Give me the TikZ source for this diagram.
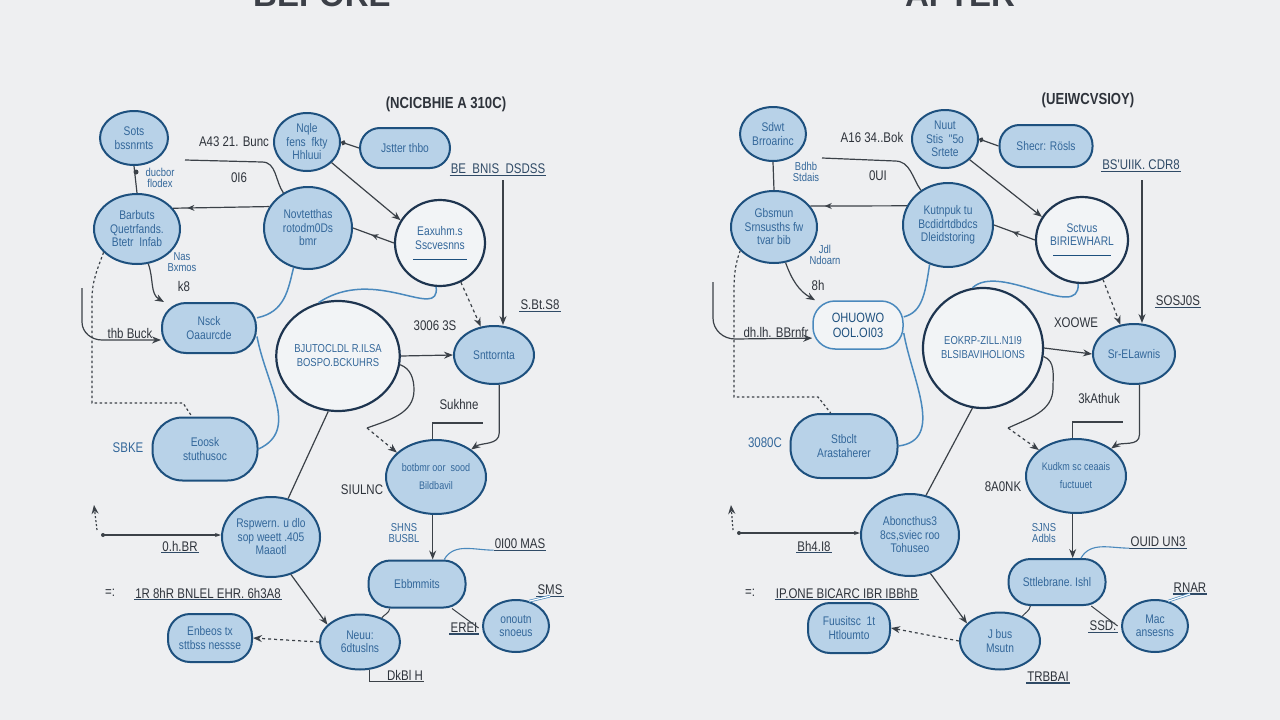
\documentclass[tikz,border=0pt]{standalone}
\usepackage{fontspec}
\setmainfont{Liberation Sans}
\newfontfamily\condf[FakeStretch=0.82]{Liberation Sans}
\usetikzlibrary{shapes.geometric,arrows.meta,decorations.markings}
\definecolor{bgc}{HTML}{EEEFF1}
\definecolor{fillc}{HTML}{B8D2E8}
\definecolor{wfill}{HTML}{F2F4F6}
\definecolor{edgec}{HTML}{1D507E}
\definecolor{darkedge}{HTML}{1E3550}
\definecolor{txtc}{HTML}{33679A}
\definecolor{darkc}{HTML}{2E333B}
\definecolor{linec}{HTML}{3B4148}
\definecolor{bluel}{HTML}{4A89BD}
\definecolor{ulc}{HTML}{2F4A66}
\definecolor{titc}{HTML}{3C4048}
\newcommand\myNodeFont{\condf\fontsize{12.5}{13.5}\selectfont}
\newcommand\myCircFont{\condf\fontsize{11.5}{14}\selectfont}
\newcommand\myTightFont{\condf\fontsize{11}{12}\selectfont}
\newcommand\myBigFont{\condf\fontsize{13.5}{15}\selectfont}
\newcommand\myLabFont{\condf\fontsize{14}{15}\selectfont}
\newcommand\mySmallFont{\condf\fontsize{11.5}{11.5}\selectfont}
\newcommand\myTitFont{\condf\bfseries\fontsize{16}{17}\selectfont}
\newcommand\myHeadFont{\bfseries\fontsize{33}{33}\selectfont}
\tikzset{
  ell/.style={ellipse, draw=edgec, line width=2pt, fill=fillc, text=txtc, font=\myNodeFont, align=center, inner sep=0pt},
  wcirc/.style={ellipse, draw=darkedge, line width=2.2pt, fill=wfill, text=txtc, font=\myNodeFont, align=center, inner sep=0pt},
  rbox/.style={rectangle, rounded corners=20pt, draw=edgec, line width=2pt, fill=fillc, text=txtc, font=\myNodeFont, align=center, inner sep=0pt},
  lbl/.style={text=darkc, font=\myLabFont, align=center, inner sep=1pt},
  blbl/.style={text=txtc, font=\mySmallFont, align=center, inner sep=1pt},
  ulbl/.style={lbl, append after command={(\tikzlastnode.south west) edge[draw=ulc, line width=1.1pt] (\tikzlastnode.south east)}},
  conn/.style={draw=linec, line width=1.2pt},
  arr/.style={conn, -{Stealth[length=9pt,width=7pt]}},
  dotl/.style={conn, dash pattern=on 2.5pt off 2.5pt},
  bcurve/.style={draw=bluel, line width=1.5pt},
  bline/.style={draw=bluel, line width=1.1pt},
  midarr/.style={postaction={decorate,decoration={markings,mark=at position #1 with {\arrow{Stealth[length=7pt,width=6pt]}}}}}
}
\begin{document}
\begin{tikzpicture}[x=1pt,y=-1pt]
\fill[bgc] (0,0) rectangle (1280,720);
\useasboundingbox (0,0) rectangle (1280,720);

% titles (cut off at top edge, as in the reference)
\node[font=\myHeadFont, text=titc, anchor=base, inner sep=0pt] (T1) at (322,6) {BEFORE};
\node[font=\myHeadFont, text=titc, anchor=base, inner sep=0pt] (T2) at (960,6) {AFTER};

% ================= LEFT PANEL =================
\node[ell, minimum width=68, minimum height=54] (N1) at (134,138) {Sots\\bssnrnts};
\node[ell, minimum width=66, minimum height=58] (N2) at (307,142) {Nqle\\fens\ \ fkty\\Hhluui};
\node[rbox, minimum width=90, minimum height=40] (N3) at (405,148) {Jstter thbo};
\node[ell, minimum width=86, minimum height=70] (N4) at (137,229) {Barbuts\\Quetrfands.\\Btetr\ \ Infab};
\node[ell, minimum width=88, minimum height=82] (N5) at (308,228) {Novtetthas\\rotodm0Ds\\bmr};
\node[wcirc, minimum width=90, minimum height=86] (N6) at (440,243) {Eaxuhm.s\\Sscvesnns\\[-3pt]{\color{edgec}\rule{54pt}{1pt}}};
\node[rbox, minimum width=94, minimum height=50, rounded corners=24pt] (N7) at (209,328) {Nsck\\Oaaurcde};
\node[wcirc, font=\myCircFont, minimum width=110, minimum height=110] (N8) at (338,356) {BJUTOCLDL R.ILSA\\BOSPO.BCKUHRS};
\node[ell, minimum width=80, minimum height=58] (N9) at (494,355) {Snttornta};
\node[rbox, minimum width=105, minimum height=63, rounded corners=30pt] (N10) at (205,449) {Eoosk\\stuthusoc};
\node[ell, font=\myTightFont, inner sep=-3pt, minimum width=100, minimum height=74] (N11) at (436,477) {botbmr oor\ \ sood\\[6pt]Bildbavil};
\node[ell, minimum width=98, minimum height=80] (N12) at (271,537) {Rspwern. u dlo\\sop weett .405\\Maaotl};
\node[rbox, minimum width=97, minimum height=47, rounded corners=22pt] (N13) at (417,584) {Ebbmmits};
\node[rbox, minimum width=84, minimum height=48, rounded corners=22pt] (N14) at (210,638) {Enbeos tx\\sttbss nessse};
\node[ell, minimum width=80, minimum height=55] (N15) at (360,642) {Neuu:\\6dtuslns};
\node[ell, minimum width=66, minimum height=52] (N16) at (516,626) {onoutn\\snoeus};

% labels left
\node[lbl] (lA) at (234,142) {A43 21. Bunc};
\node[lbl] (lB) at (239,178) {0I6};
\node[lbl, font=\myTitFont] (lC) at (446,104) {(NCICBHIE A 310C)};
\node[ulbl, text=ulc] (lD) at (498,169) {BE\ \ BNIS\ \ DSDSS};
\node[blbl] (lE) at (160,178) {ducbor\\flodex};
\node[blbl] (lF) at (182,262) {Nas\\Bxmos};
\node[lbl] (lG) at (184,286) {k8};
\node[lbl] (lH) at (130,333) {thb Buck};
\node[lbl, text=txtc] (lI) at (128,448) {SBKE};
\node[lbl] (lJ) at (435,326) {3006 3S};
\node[ulbl] (lK) at (540,305) {S.Bt.S8};
\node[lbl] (lL) at (459,404) {Sukhne};
\node[lbl] (lM) at (362,490) {SIULNC};
\node[ulbl] (lN) at (180,546) {0.h.BR};
\node[ulbl] (lO) at (208,593) {1R 8hR BNLEL EHR. 6h3A8};
\node[lbl] (lP) at (110,593) {=:};
\node[blbl] (lQ) at (404,533) {SHNS\\BUSBL};
\node[ulbl] (lR) at (520,544) {0I00 MAS};
\node[ulbl] (lS) at (550,590) {SMS};
\node[ulbl] (lT) at (464,628) {EREI};
\node[lbl] (lU) at (405,675) {DkBl H};

% connectors left
\draw[conn] (N1.south) -- (N4.north);
\fill[linec] (136,172) circle (2.5);
\coordinate (a1) at (185,160);
\draw[conn] (a1) -- (262,162) to[out=0,in=125] (N5.125);
\draw[conn, midarr=0.85] (N5.151) -- (N4.30);
\draw[conn, -{Circle[length=5pt]}] (N3.west) -- (N2.east);
\draw[arr] (N2.-40) -- (N6.150);
\draw[conn, midarr=0.55] (N6.west) -- (N5.east);
\draw[arr, dashed] (N6.-62) -- (N9.115);
\coordinate (v1) at (503,180);
\draw[arr] (v1) -- (N9.north -| v1);
\draw[arr] (N8.east) -- (N9.west);
\draw[arr] (N9.-80) -- ++(0,48) to[out=-90,in=35] (N11.38);
\draw[conn] (N8.-8) to[out=-20,in=90] (414,390) to[out=-90,in=20] (367,428) coordinate (k1);
\draw[arr, dashed] (k1) -- (N11.148);
\draw[conn] (N11.95) -- ++(0,-16) -- ++(50,0);
\draw[conn] (N8.-100) -- (N12.66);
\draw[arr] (N12.-62) -- (N15.152);
\draw[arr, dashed] (N15.west) -- (N14.east);
\coordinate (t1) at (N11.-95);
\draw[arr] (t1) -- (t1 |- N13.north);
\draw[bline] (N13.42) to[out=60,in=180] (lR.south west);
\draw[conn, line width=1pt] (N13.222) to[out=-100,in=50] (N15.48);
\draw[conn, line width=1pt] (N13.-35) -- (lT.east);
\draw[bline, double, double distance=1.2pt, line width=0.7pt] (N16.62) -- (lS.south);
\draw[conn, line width=1pt] (N15.-72) |- (lU.south east);
\draw[dotl] (N4.215) to[out=-110,in=90] (92,300) -- (92,403) -- (183,403) -- (N10.112);
\coordinate (s1) at (82,288);
\draw[arr] (s1) -- (82,322) to[out=-90,in=180] (102,340) -- (N7.194);
\draw[arr] (N4.-72) to[out=-70,in=150] (N7.150);
\coordinate (u1) at (97,530);
\draw[arr, dash pattern=on 2pt off 2pt] (u1) -- (94,505);
\draw[conn, -{Stealth[length=6pt,width=4pt]}] (u1) ++(6,5) coordinate (u1b) -- (N12.west |- u1b);
\fill[linec] (u1b) circle (2);
\draw[bcurve] (N5.250) .. controls (288,290) and (285,312) .. (N7.12);
\draw[bcurve] (N7.-10) .. controls (266,385) and (300,430) .. (N10.east);
\draw[bcurve] (N6.-95) .. controls (440,322) and (375,265) .. (N8.110);

% ================= RIGHT PANEL =================
\node[ell, minimum width=66, minimum height=54] (R1) at (773,134) {Sdwt\\Brroarinc};
\node[ell, minimum width=66, minimum height=58] (R2) at (945,139) {Nuut\\Stis\ \ "5o\\Srtete};
\node[rbox, minimum width=93, minimum height=42] (R3) at (1046,146) {Shecr: Rösls};
\node[ell, minimum width=86, minimum height=72] (R4) at (774,227) {Gbsmun\\Srnsusths fw\\tvar bib};
\node[ell, minimum width=90, minimum height=84] (R5) at (948,225) {Kutnpuk tu\\Bcdidrtdbdcs\\Dleidstoring};
\node[wcirc, minimum width=92, minimum height=86] (R6) at (1082,240) {Sctvus\\BIRIEWHARL\\[-3pt]{\color{edgec}\rule{58pt}{1pt}}};
\node[rbox, draw=bluel, line width=1.5pt, fill=wfill, minimum width=90, minimum height=48, rounded corners=22pt, font=\myBigFont, text=edgec] (R7) at (858,325) {OHUOWO\\OOL.OI03};
\node[wcirc, font=\myCircFont, minimum width=120, minimum height=120] (R8) at (983,348) {EOKRP-ZILL.N1I9\\BLSIBAVIHOLIONS};
\node[ell, minimum width=82, minimum height=60] (R9) at (1134,354) {Sr-ELawnis};
\node[rbox, minimum width=107, minimum height=64, rounded corners=30pt] (R10) at (844,446) {Stbclt\\Arastaherer};
\node[ell, font=\myTightFont, inner sep=-3pt, minimum width=100, minimum height=74] (R11) at (1076,476) {Kudkm sc ceaais\\[6pt]fuctuuet};
\node[ell, minimum width=98, minimum height=82] (R12) at (910,535) {Aboncthus3\\8cs,sviec roo\\Tohuseo};
\node[rbox, minimum width=97, minimum height=46, rounded corners=22pt] (R13) at (1057,582) {Sttlebrane.\ Ishl};
\node[rbox, minimum width=82, minimum height=50, rounded corners=22pt] (R14) at (849,628) {Fuusitsc\ \ 1t\\Htloumto};
\node[ell, minimum width=80, minimum height=57] (R15) at (1000,641) {J bus\\Msutn};
\node[ell, minimum width=66, minimum height=52] (R16) at (1155,626) {Mac\\ansesns};

% labels right
\node[lbl] (rA) at (872,137) {A16 34..Bok};
\node[lbl] (rB) at (878,176) {0UI};
\node[lbl, font=\myTitFont] (rC) at (1088,100) {(UEIWCVSIOY)};
\node[ulbl, text=ulc] (rD) at (1141,165) {BS'UIIK.\ CDR8};
\node[blbl] (rE) at (806,172) {Bdhb\\Stdais};
\node[blbl] (rF) at (825,255) {Jdl\\Ndoarn};
\node[lbl] (rG) at (818,285) {8h};
\node[lbl] (rH) at (776,332) {dh.lh. BBrnfr};
\node[lbl, text=txtc] (rI) at (765,443) {3080C};
\node[lbl] (rJ) at (1076,323) {XOOWE};
\node[ulbl] (rK) at (1178,301) {SOSJ0S};
\node[lbl] (rL) at (1099,398) {3kAthuk};
\node[lbl] (rM) at (1003,487) {8A0NK};
\node[ulbl] (rN) at (814,546) {Bh4.I8};
\node[ulbl] (rO) at (847,593) {IP.ONE BICARC IBR IBBhB};
\node[lbl] (rP) at (750,593) {=:};
\node[blbl] (rQ) at (1044,533) {SJNS\\Adbls};
\node[ulbl] (rR) at (1158,542) {OUID UN3};
\node[ulbl] (rS) at (1190,588) {RNAR};
\node[ulbl] (rT) at (1103,626) {SSD:};
\node[ulbl] (rU) at (1048,677) {TRBBAI};

% connectors right
\draw[conn] (R1.south) -- (R4.north);
\coordinate (a2) at (822,158);
\draw[conn] (a2) -- (895,161) to[out=0,in=125] (R5.128);
\draw[conn, midarr=0.85] (R5.155) -- (R4.30);
\draw[conn, -{Circle[length=5pt]}] (R3.west) -- (R2.east);
\draw[arr] (R2.-40) -- (R6.150);
\draw[conn, midarr=0.55] (R6.west) -- (R5.east);
\draw[arr, dashed] (R6.-62) -- (R9.115);
\coordinate (v2) at (1142,180);
\draw[arr] (v2) -- (R9.north -| v2);
\draw[arr] (R8.east) -- (R9.west);
\draw[arr] (R9.-80) -- ++(0,50) to[out=-90,in=35] (R11.38);
\draw[conn] (R8.-8) to[out=-20,in=90] (1053,388) to[out=-90,in=25] (1008,428) coordinate (k2);
\draw[arr, dashed] (k2) -- (R11.145);
\draw[conn] (R11.95) -- ++(0,-16) -- ++(50,0);
\draw[conn] (R8.-100) -- (R12.68);
\draw[arr] (R12.-62) -- (R15.152);
\draw[arr, dashed] (R15.west) -- (R14.east);
\coordinate (t2) at (R11.-95);
\draw[arr] (t2) -- (t2 |- R13.north);
\draw[bline] (R13.45) to[out=60,in=180] (rR.south west);
\draw[conn, line width=1pt] (R13.222) to[out=-100,in=50] (R15.48);
\draw[conn, line width=1pt] (R13.-35) -- (rT.east);
\draw[bline, double, double distance=1.2pt, line width=0.7pt] (R16.62) -- (rS.south);
\draw[dotl] (R4.215) to[out=-110,in=90] (734,300) -- (734,397) -- (818,397) -- (R10.112);
\coordinate (s2) at (713,282);
\draw[arr] (s2) -- (713,318) to[out=-90,in=180] (735,339) -- (R7.196);
\draw[arr] (R4.-72) to[out=-70,in=150] (R7.150);
\coordinate (u2) at (733,530);
\draw[arr, dash pattern=on 2pt off 2pt] (u2) -- (731,505);
\draw[conn, -{Stealth[length=6pt,width=4pt]}] (u2) ++(6,3) coordinate (u2b) -- (R12.west |- u2b);
\fill[linec] (u2b) circle (2);
\draw[bcurve] (R5.245) .. controls (925,295) and (922,312) .. (R7.10);
\draw[bcurve] (R7.-10) .. controls (912,380) and (945,440) .. (R10.east);
\draw[bcurve] (R6.-95) .. controls (1080,322) and (1000,262) .. (R8.100);
\end{tikzpicture}
\end{document}
